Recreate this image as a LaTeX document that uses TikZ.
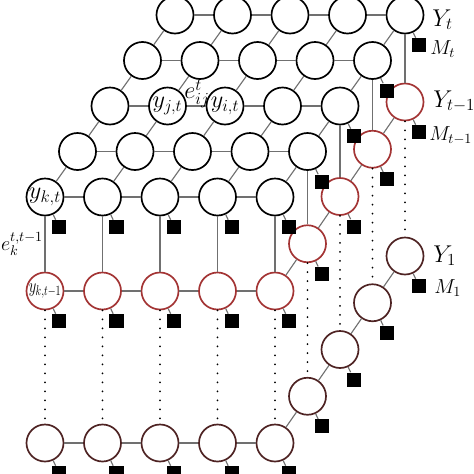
\documentclass[tikz,border=0pt]{standalone}
\definecolor{cred}{HTML}{A33434}
\definecolor{cbrown}{HTML}{4E2323}
\definecolor{cline}{HTML}{707070}
\tikzset{
  var/.style={circle, draw=#1, fill=white, line width=1.2pt, minimum size=0.925cm, inner sep=0pt},
  var/.default=black,
  obs/.style={rectangle, fill=black, minimum size=0.35cm, inner sep=0pt},
  link/.style={draw=cline, line width=0.8pt},
  skip/.style={line width=1.3pt, dash pattern=on 0pt off 6.4pt, line cap=round},
  lbl/.style={inner sep=0pt, anchor=base west},
}

\begin{document}
\begin{tikzpicture}[x=0.025cm, y=-0.025cm]
  \useasboundingbox (0,0) rectangle (474,474);
  \clip (0,0) rectangle (474,474);
  % layer Y_t: full grid
  \foreach \r in {0,...,4}
    \foreach \c in {0,...,4}
      \node[var] (t\r\c) at ({45+57.5*\c+32.5*(4-\r)},{197-45.5*(4-\r)}) {};
  \foreach \r [count=\s] in {0,...,4}
    \foreach \c [count=\n] in {0,...,4} {
      \ifnum\c<4 \draw[link] (t\r\c) -- (t\r\n); \fi
      \ifnum\r<4 \draw[link] (t\r\c) -- (t\s\c); \fi
    }
  % layers Y_{t-1} (p) and Y_1 (o): only the visible edge
  \foreach \L/\col/\base/\dy in {p/cred/291/47.25, o/cbrown/443/46.75} {
    \foreach \r in {0,...,4}
      \node[var=\col] (\L\r4) at ({275+32.5*(4-\r)},{\base-\dy*(4-\r)}) {};
    \foreach \c in {0,...,3}
      \node[var=\col] (\L4\c) at ({45+57.5*\c},\base) {};
    \foreach \r [count=\s] in {0,...,3} {
      \draw[link] (\L\r4) -- (\L\s4);
      \draw[link] (\L4\r) -- (\L4\s);
    }
  }
  % links between layers
  \foreach \r in {0,...,4} {
    \draw[link] (t\r4) -- (p\r4);
    \draw[skip] (p\r4) -- (o\r4);
  }
  \foreach \c in {0,...,3} {
    \draw[link] (t4\c) -- (p4\c);
    \draw[skip] (p4\c) -- (o4\c);
  }
  % observations M
  \foreach \L in {t,p,o} {
    \foreach \r in {0,...,4} {
      \node[obs] (m\L\r4) at ([shift={(14,30)}]\L\r4) {};
      \draw[link] (\L\r4) -- (m\L\r4);
    }
    \foreach \c in {0,...,3} {
      \node[obs] (m\L4\c) at ([shift={(14,30)}]\L4\c) {};
      \draw[link] (\L4\c) -- (m\L4\c);
    }
  }
  % texts
  \node[font=\LARGE] (yj) at (t21) {$y_{j,t}$};
  \node[font=\LARGE] (yi) at (t22) {$y_{i,t}$};
  \node[font=\LARGE] (yk) at (t40) {$y_{k,t}$};
  \node[font=\Large] (ykp) at (p40) {\scalebox{0.72}[1]{$y_{k,t-1}$}};
  \node[font=\LARGE, inner sep=0pt] (eij) at (197,94) {$e^{t}_{ij}$};
  \node[font=\Large, inner sep=0pt] (ek) at (22,244) {$e_k^{t,t-1}$};
  \node[lbl, font=\LARGE] (Yt) at (432,26) {$Y_t$};
  \node[lbl, font=\Large] (Mt) at (430,54) {$M_t$};
  \node[lbl, font=\LARGE] (Yp) at (433,107) {$Y_{t-1}$};
  \node[lbl, font=\Large] (Mp) at (429,140) {$M_{t-1}$};
  \node[lbl, font=\LARGE] (Yo) at (433,262) {$Y_1$};
  \node[lbl, font=\Large] (Mo) at (434,293) {$M_1$};
\end{tikzpicture}
\end{document}
